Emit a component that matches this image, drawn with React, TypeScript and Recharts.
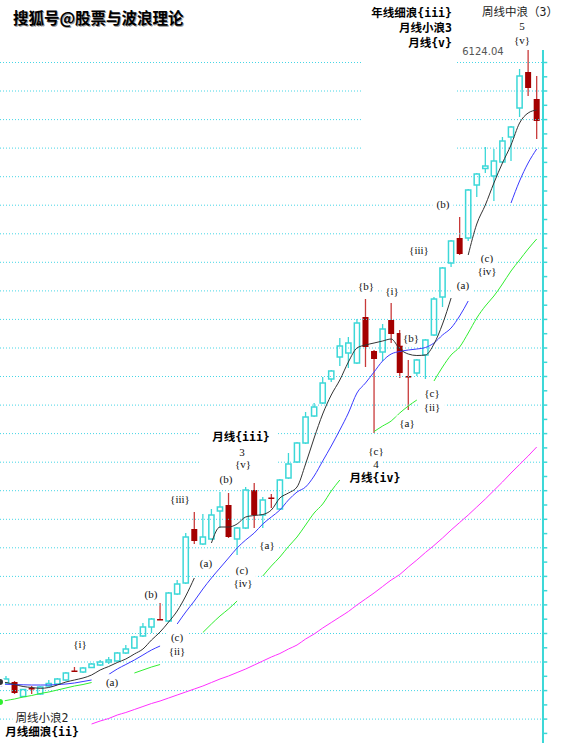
import React from "react";
import { ComposedChart, XAxis, YAxis, Bar, Line, Scatter, ReferenceLine } from "recharts";

const W = 561;
const H = 743;

// Weekly candles (chart level units, 0 = bottom edge)
const opens = [60, 61, 46.5, 55, 49, 57, 59, 63, 72.5, 71, 75.5, 78, 81, 82, 90, 95, 107, 116, 124, 122, 149, 160, 214, 199, 204, 232, 238, 204, 215, 253, 228, 245.5, 234, 265, 281, 300, 327, 340, 364, 386, 390, 380, 426, 392, 391, 423, 410, 367, 370, 388, 408, 446, 480, 505, 505, 558, 574.5, 567, 581, 606, 635, 671, 644];
const highs = [67, 62, 54, 57, 57, 63, 65, 71, 76, 76, 80, 83, 86, 91, 98, 107, 120, 125, 140, 151, 163, 210, 231, 229, 234, 251, 250, 216, 256, 260, 246, 249, 264, 290, 301, 331, 340, 366, 373, 405, 406, 424, 444, 393, 419, 440, 413, 383, 384, 404, 446, 476, 503, 526, 554, 570, 596, 594, 606, 617, 674, 693, 667];
const lows = [59, 49, 46, 49, 48, 56, 58, 62, 71, 70, 75, 77, 79, 81, 89, 94, 106, 110, 123, 121, 148, 159, 199, 198, 203, 215, 205, 188, 214, 215, 215, 235, 233, 264, 280, 299, 326, 339, 361, 377, 375, 379, 376, 310, 382, 400, 365, 333, 367, 364, 407, 436, 476, 488, 502, 546, 570, 542, 580, 582, 626, 647, 604];
const closes = [64, 50, 53.5, 54, 56, 59.5, 64, 70, 71.5, 75, 79, 81, 83, 90, 94, 106, 116, 124, 123, 150, 159, 206, 202, 206, 228, 236, 206, 215, 253, 228, 243, 244, 263, 279, 300, 326, 336, 360, 372, 397, 400, 420, 396, 384, 414, 409, 370, 365.5, 383, 403, 444, 475, 502, 489, 553, 569, 577, 582, 602, 616, 667, 655, 622];

// Moving averages (null = hidden behind an annotation)
const maBlackStart = 61;
const maBlack = [60.5, 58.5, 56.5, 55.5, 54.7, 55.5, 58, 61, 63, 65, 68, 73, 76.5, 80.5, 84, 89, 94, 103, 111, 121, 132, 147, 165, null, 200, 216, 216, 219, 226, 227.5, 228.5, 233, 245, 250, 256, 279, 305, 329, 348, 363, 381, 395, 398, 400, 402, 404, 394, 389, 387.5, 388, 399, 419, 445, null, 488, 519, 538, 560, 580, 598, 620, 630, 633];
const maBlueStart = 59;
const maBlue = [58.7, 58.5, 58.2, 58, 58, 58, 58.5, 59, 60, 61.5, 63, null, 68.5, 74, 78.5, 83, 88, 93, 97, null, 119, 131, 142, 154, 165, 175, 185, 195, 203, 210, 219, 226, 233, 243, 251, 256, 267, 282, 297, 313, 330, 350, 360, 371, 382, 389, 391.5, 393, 394, 395.5, 400, 408, 415, 427, 442, null, null, null, null, 540, 562, 580, 594];
const maGreenStart = 41;
const maGreen = [42.5, 44, 46, 47.5, 49.5, 51, 53, 55, 57, 58.5, 60.5, null, null, null, null, 70, 73, 76, 78.5, null, null, null, null, 110.5, 119, 127, 134, 142, null, null, 167, 177, 186, 196.5, 206, 218, 230, 239, 252, 263, null, null, null, 311.5, 317, 322, 330, 337, 343, null, 362, 376, 388, 396, 410, 425, 437, 447, 459, 472, 483, 494, 504];
const maMagenta = [null, null, null, null, null, null, null, null, null, null, 19, 22, 24.5, 28, 30.5, 33.5, 36.5, 39.5, 42, 45, 48, 51, 54, 57, 60.5, 64, 67, 70.5, 74, 78, 82, 86, 89.5, 94, 98, 104, 109, 115, 120.5, 126, 131.5, 138, 144, 150, 156.5, 163, 168.5, 176, 183, 190.5, 197.5, 205, 213, 220.5, 228, 236, 244, 252.5, 261, 270, 278.5, 287, 296];

// Horizontal dotted grid levels and right-axis tick levels
const gridLevels = [680.5, 652, 623.4, 594.9, 566.3, 537.8, 509.2, 480.7, 452.1, 423.6, 395, 366.5, 337.9, 309.4, 280.8, 252.3, 223.7, 195.2, 166.6, 138.1, 109.5, 81, 52.4, 23.9];
const minorTickLevels = [666.2, 637.7, 609.1, 580.6, 552, 523.5, 494.9, 466.4, 437.8, 409.3, 380.7, 352.2, 323.6, 295.1, 266.5, 238, 209.4, 180.9, 152.3, 123.8, 95.2, 66.7, 38.1, 9.6];
// Grid stretches hidden behind the opaque annotation boxes
const gridGaps = [
  { levels: [680.5, 652, 623.4, 594.9], from: 41.71, to: 52.69 },
  { levels: [309.4, 280.8], from: 22.66, to: 31.78 },
];

const X_MIN = -0.7;
const X_MAX = 64.84;
const AXIS_X = 62.736;
const AXIS_TOP = 693;

type Note = { i: number; v: number; text: string; kind: string };
const notes: Note[] = [
  { i: 0.818, v: 726.5, text: "搜狐号@股票与波浪理论", kind: "title" },
  { i: 52.103, v: 730, text: "年线细浪{iii}", kind: "boldEnd" },
  { i: 52.103, v: 715, text: "月线小浪3", kind: "boldEnd" },
  { i: 52.103, v: 700.5, text: "月线{v}", kind: "boldEnd" },
  { i: 60.05, v: 731, text: "周线中浪（3）", kind: "plain" },
  { i: 60.28, v: 717, text: "5", kind: "small" },
  { i: 60.28, v: 703, text: "{v}", kind: "small" },
  { i: 55.72, v: 691.5, text: "6124.04", kind: "price" },
  { i: 4.206, v: 25, text: "周线小浪2", kind: "plain" },
  { i: 4.206, v: 11, text: "月线细浪{ii}", kind: "bold" },
  { i: 8.645, v: 99, text: "{i}", kind: "small" },
  { i: 12.383, v: 61, text: "(a)", kind: "small" },
  { i: 16.94, v: 149, text: "(b)", kind: "small" },
  { i: 19.977, v: 106, text: "(c)", kind: "small" },
  { i: 19.977, v: 92, text: "{ii}", kind: "small" },
  { i: 20.327, v: 244, text: "{iii}", kind: "small" },
  { i: 25.7, v: 264, text: "(b)", kind: "small" },
  { i: 23.364, v: 180, text: "(a)", kind: "small" },
  { i: 27.57, v: 173, text: "(c)", kind: "small" },
  { i: 27.687, v: 160, text: "{iv}", kind: "small" },
  { i: 30.49, v: 198, text: "{a}", kind: "small" },
  { i: 27.453, v: 306, text: "月线{iii}", kind: "bold" },
  { i: 27.57, v: 291, text: "3", kind: "small" },
  { i: 27.687, v: 279, text: "{v}", kind: "small" },
  { i: 42.056, v: 457, text: "{b}", kind: "small" },
  { i: 45.093, v: 452, text: "{i}", kind: "small" },
  { i: 47.313, v: 405, text: "{b}", kind: "small" },
  { i: 49.766, v: 350, text: "{c}", kind: "small" },
  { i: 49.766, v: 336, text: "{ii}", kind: "small" },
  { i: 46.846, v: 320, text: "{a}", kind: "small" },
  { i: 43.224, v: 292, text: "{c}", kind: "small" },
  { i: 43.224, v: 279, text: "4", kind: "small" },
  { i: 43.107, v: 265, text: "月线{iv}", kind: "bold" },
  { i: 53.388, v: 458, text: "(a)", kind: "small" },
  { i: 51.051, v: 539, text: "(b)", kind: "small" },
  { i: 48.248, v: 493, text: "{iii}", kind: "small" },
  { i: 56.192, v: 485, text: "(c)", kind: "small" },
  { i: 56.192, v: 472, text: "{iv}", kind: "small" },
];

const CYAN = "#3cd8d8";
const RED = "#a40000";
const RED_WICK = "#c83a3a";
const GRID = "#45d6e6";

const candles = opens.map((o, i) => ({
  i,
  o,
  h: highs[i],
  l: lows[i],
  c: closes[i],
  range: [lows[i], highs[i]],
}));

const toSeries = (arr: (number | null)[], start?: number) => {
  const pts: { i: number; v: number | null }[] = [];
  if (start !== undefined) pts.push({ i: X_MIN, v: start });
  arr.forEach((v, i) => pts.push({ i, v }));
  return pts;
};

const blackData = toSeries(maBlack, maBlackStart);
const blueData = toSeries(maBlue, maBlueStart);
const greenData = toSeries(maGreen, maGreenStart);
const magentaData = toSeries(maMagenta);

// grid segments: each level split where an annotation box hides it
const gridSegments: { lv: number; a: number; b: number }[] = [];
gridLevels.forEach((lv) => {
  const gap = gridGaps.find((g) => g.levels.includes(lv));
  if (gap) {
    gridSegments.push({ lv, a: X_MIN, b: gap.from });
    gridSegments.push({ lv, a: gap.to, b: AXIS_X });
  } else {
    gridSegments.push({ lv, a: X_MIN, b: AXIS_X });
  }
});

const CandleShape = (props: any) => {
  const { x, y, width, height, payload } = props;
  if (x == null || y == null || !payload) return null;
  const { o, h, l, c } = payload;
  const top = Math.min(y, y + height);
  const bot = Math.max(y, y + height);
  const k = (bot - top) / (h - l);
  const py = (v: number) => top + (h - v) * k;
  const cx = x + width / 2;
  const up = c >= o;
  const bt = py(Math.max(o, c));
  const bb = py(Math.min(o, c));
  if (up) {
    return (
      <g>
        <line x1={cx} x2={cx} y1={top} y2={bt} stroke={CYAN} strokeWidth={1.3} />
        <line x1={cx} x2={cx} y1={bb} y2={bot} stroke={CYAN} strokeWidth={1.3} />
        <rect x={cx - 2.6} y={bt} width={5.2} height={Math.max(bb - bt, 1)} fill="#fff" stroke={CYAN} strokeWidth={1.5} />
      </g>
    );
  }
  return (
    <g>
      <line x1={cx} x2={cx} y1={top} y2={bot} stroke={RED_WICK} strokeWidth={1.3} />
      <rect x={cx - 3} y={bt} width={6} height={Math.max(bb - bt, 1.5)} fill={RED} />
    </g>
  );
};

const styles: Record<string, any> = {
  small: { fontFamily: "'Liberation Serif', serif", fontSize: 11, fontWeight: 400, anchor: "middle", ratio: 0.45, fill: "#111" },
  bold: { fontFamily: "'DejaVu Sans Mono', 'Noto Sans CJK SC'", fontSize: 11.5, fontWeight: 700, anchor: "middle", ratio: 0.6, fill: "#000" },
  boldEnd: { fontFamily: "'DejaVu Sans Mono', 'Noto Sans CJK SC'", fontSize: 11.5, fontWeight: 700, anchor: "end", ratio: 0.6, fill: "#000" },
  plain: { fontFamily: "'DejaVu Sans Mono', 'Noto Sans CJK SC'", fontSize: 11.5, fontWeight: 400, anchor: "middle", ratio: 0.6, fill: "#222" },
  price: { fontFamily: "'DejaVu Sans', sans-serif", fontSize: 10, fontWeight: 400, anchor: "middle", ratio: 0.6, fill: "#555" },
  title: { fontFamily: "'Noto Sans CJK SC'", fontSize: 15.5, fontWeight: 700, anchor: "start", ratio: 0.8, fill: "#000" },
};

const estWidth = (text: string, fs: number, ratio: number) => {
  let w = 0;
  for (const ch of text) w += ch.charCodeAt(0) > 0x2e80 ? fs : fs * ratio;
  return w;
};

const NoteShape = (props: any) => {
  const { cx, cy, payload } = props;
  if (cx == null || cy == null || !payload) return null;
  const st = styles[payload.kind];
  const w = estWidth(payload.text, st.fontSize, st.ratio);
  const pad = 3;
  const left = st.anchor === "middle" ? cx - w / 2 : st.anchor === "end" ? cx - w : cx;
  const textProps = {
    x: cx,
    y: cy,
    textAnchor: st.anchor,
    dominantBaseline: "central",
    fontFamily: st.fontFamily,
    fontSize: st.fontSize,
    fontWeight: st.fontWeight,
  };
  return (
    <g>
      <rect x={left - pad} y={cy - st.fontSize * 0.7} width={w + pad * 2} height={st.fontSize * 1.4} fill="#fff" />
      {payload.kind === "title" ? (
        <text {...textProps} x={cx + 1} y={cy + 1} fill="#9a9a9a">{payload.text}</text>
      ) : null}
      <text {...textProps} fill={st.fill}>{payload.text}</text>
    </g>
  );
};

export default function App() {
  return (
    <div style={{ position: "absolute", left: 0, top: 0, width: W, height: H, background: "#fff" }}>
      <ComposedChart width={W} height={H} data={candles} margin={{ top: 0, right: 0, bottom: 0, left: 0 }}>
        <XAxis dataKey="i" type="number" domain={[X_MIN, X_MAX]} allowDataOverflow hide />
        <YAxis type="number" domain={[0, H]} allowDataOverflow hide />
        {gridSegments.map((s) => (
          <ReferenceLine
            key={`g${s.lv}-${s.a}`}
            segment={[{ x: s.a, y: s.lv }, { x: s.b, y: s.lv }]}
            stroke={GRID}
            strokeWidth={1}
            strokeDasharray="1 2"
          />
        ))}
        <ReferenceLine segment={[{ x: AXIS_X, y: AXIS_TOP }, { x: AXIS_X, y: 0 }]} stroke={CYAN} strokeWidth={2} />
        {[...gridLevels, ...minorTickLevels].map((lv) => (
          <ReferenceLine
            key={`t${lv}`}
            segment={[{ x: AXIS_X, y: lv }, { x: AXIS_X + 0.5, y: lv }]}
            stroke={CYAN}
            strokeWidth={1.5}
          />
        ))}
        <Bar dataKey="range" barSize={7} shape={CandleShape} isAnimationActive={false} />
        <Line data={magentaData} dataKey="v" type="monotone" stroke="#ff30ff" strokeWidth={1} dot={false} connectNulls={false} isAnimationActive={false} />
        <Line data={greenData} dataKey="v" type="monotone" stroke="#30ee30" strokeWidth={1} dot={false} connectNulls={false} isAnimationActive={false} />
        <Line data={blueData} dataKey="v" type="monotone" stroke="#3a3aff" strokeWidth={1} dot={false} connectNulls={false} isAnimationActive={false} />
        <Line data={blackData} dataKey="v" type="monotone" stroke="#333" strokeWidth={1} dot={false} connectNulls={false} isAnimationActive={false} />
        <Scatter data={notes} dataKey="v" shape={NoteShape} isAnimationActive={false} />
      </ComposedChart>
    </div>
  );
}
